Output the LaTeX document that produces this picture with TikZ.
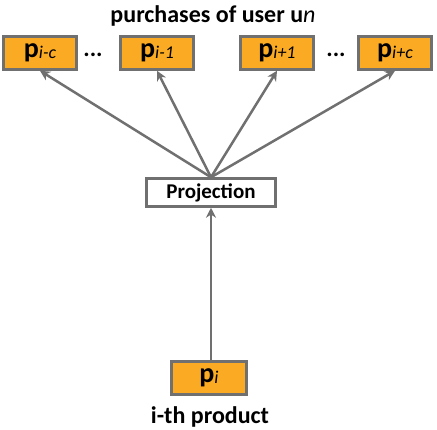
\documentclass[tikz,border=0pt]{standalone}
\usepackage{fontspec}
\setmainfont{Carlito}
\usetikzlibrary{arrows.meta,positioning}
\definecolor{prodorange}{RGB}{250,170,35}
\definecolor{edgegray}{RGB}{112,112,112}
\tikzset{
  prodbox/.style={draw=edgegray, fill=prodorange, line width=2.5pt, minimum width=73pt, minimum height=33pt, inner sep=0pt},
  projbox/.style={draw=edgegray, fill=white, line width=2.5pt, minimum width=129pt, minimum height=28pt, inner sep=0pt, font=\fontsize{21}{21}\selectfont\bfseries},
  flow/.style={draw=edgegray, line width=2.5pt, -{Stealth[length=10pt,width=10pt]}},
  caption/.style={font=\fontsize{24}{24}\selectfont\bfseries},
}
\newcommand{\prodlabel}[1]{{\fontsize{28}{28}\selectfont\bfseries p}\raisebox{-1pt}{\fontsize{18}{18}\selectfont\itshape #1}}

\begin{document}
\begin{tikzpicture}[x=1pt,y=-1pt]
\useasboundingbox (0,0) rectangle (437,429);
% context of the purchase
\node[caption] (title) at (213,16) {purchases of user \textbf{u}{\mdseries\itshape n}};
\node[prodbox] (pmc) at (40,53) {\prodlabel{i-c}};
\node[caption] (dotsl) at (93,55) {...};
\node[prodbox] (pm1) at (157,53) {\prodlabel{i-1}};
\node[prodbox] (pp1) at (277,53) {\prodlabel{i+1}};
\node[caption] (dotsr) at (336,55) {...};
\node[prodbox] (ppc) at (395,53) {\prodlabel{i+c}};
% projection and input product
\node[projbox] (proj) at (211,192.5) {Projection};
\node[prodbox, minimum width=75pt] (pi) at (209,378) {\prodlabel{i}};
\node[caption] (ithp) at (210,417) {i-th product};

\draw[flow] (pi.north -| proj.south) -- (proj.south);
\foreach \target in {pmc,pm1,pp1,ppc}
  \draw[flow] (proj.north) -- (\target.south);
\end{tikzpicture}
\end{document}
